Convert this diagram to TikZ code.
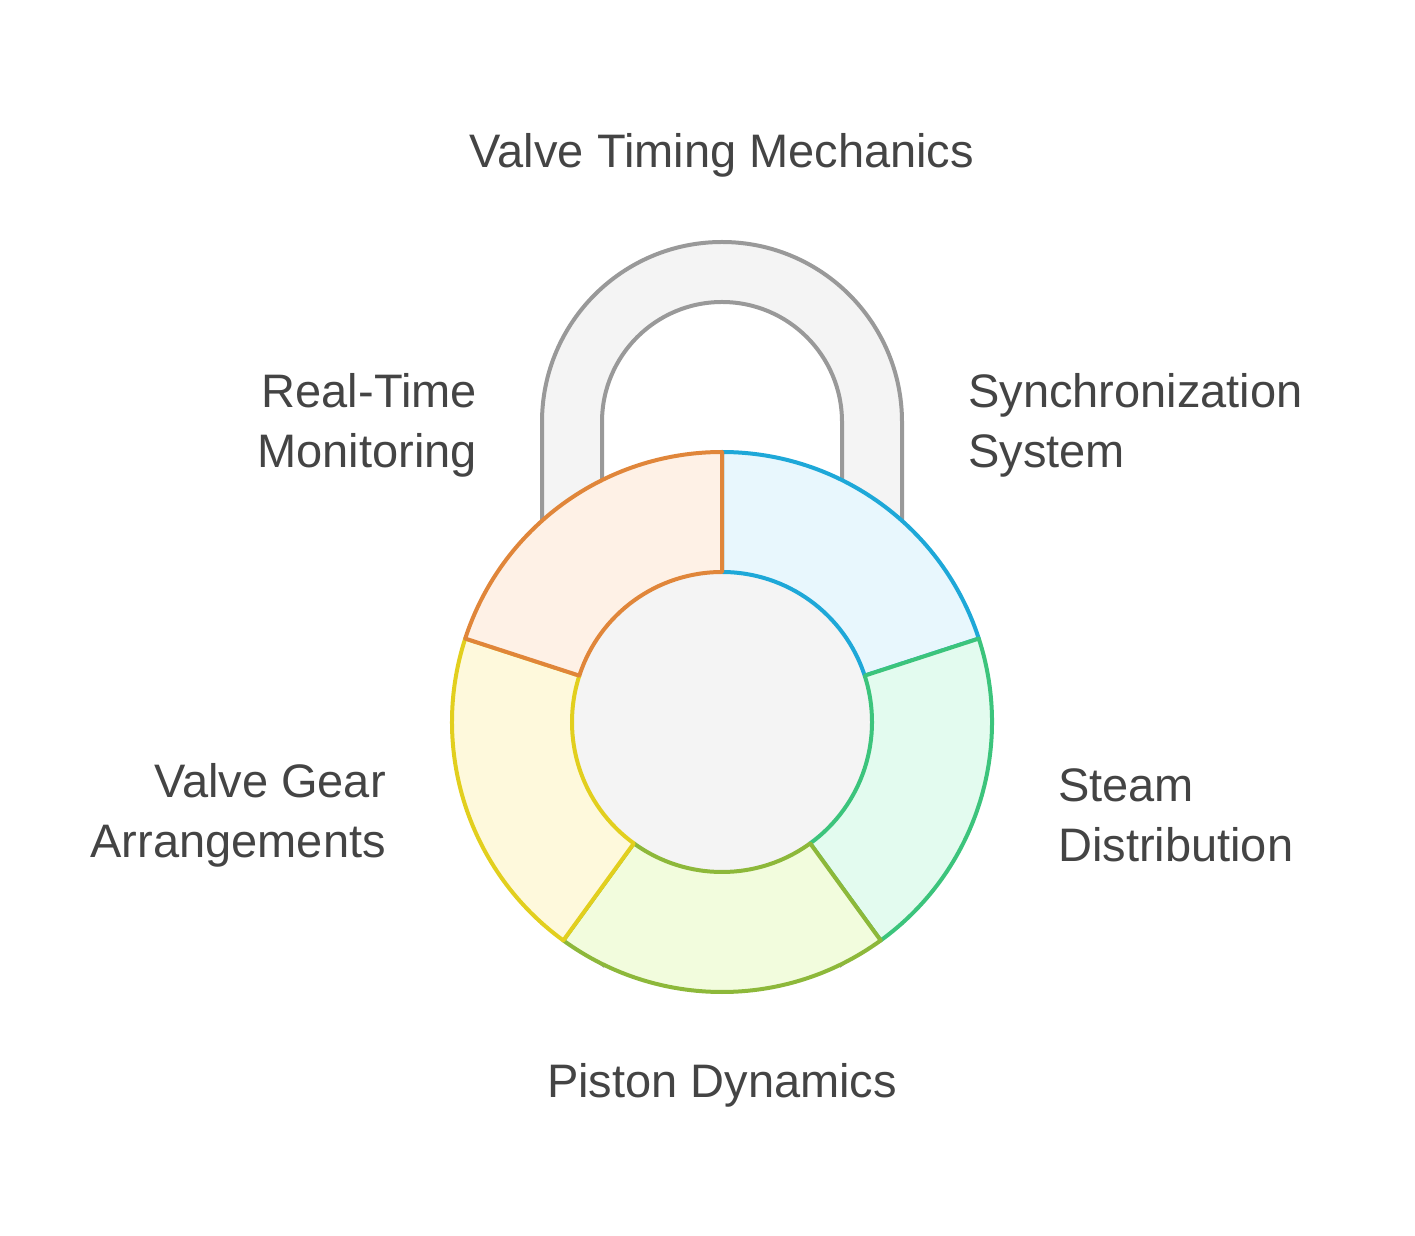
\documentclass[tikz,border=0pt]{standalone}
\usepackage{fontspec}
\setmainfont{Liberation Sans}
\usetikzlibrary{positioning}
\definecolor{txt}{HTML}{444444}
\definecolor{lockgray}{HTML}{999999}
\definecolor{lockfill}{HTML}{F4F4F4}
\definecolor{blueS}{HTML}{1EA8D8}\definecolor{blueF}{HTML}{E8F7FD}
\definecolor{greenS}{HTML}{3CC47C}\definecolor{greenF}{HTML}{E3FBEF}
\definecolor{limeS}{HTML}{8DB83A}\definecolor{limeF}{HTML}{F2FCDD}
\definecolor{yellowS}{HTML}{E2CF1E}\definecolor{yellowF}{HTML}{FEF9DC}
\definecolor{orangeS}{HTML}{E0863A}\definecolor{orangeF}{HTML}{FEF1E6}
\tikzset{
  label/.style={text=txt, font=\fontsize{47}{60}\selectfont, inner sep=0pt},
  seg/.style={line width=4pt, line join=round}
}
\begin{document}
\begin{tikzpicture}[x=1pt,y=1pt]
  \useasboundingbox (0,0) rectangle (1415,1235);
  \coordinate (c) at (722,513);
  % shackle
  \draw[lockgray, fill=lockfill, line width=4pt]
    ([shift={(-180,-201)}]c) -- ++(0,501) arc (180:0:180) -- ++(0,-501)
    -- ([shift={(120,-242)}]c) -- ++(0,542) arc (0:180:120) -- ++(0,-542) -- cycle;
  \fill[white] (c) circle (265);
  \fill[lockfill] (c) circle (150);
  % ring segments
  \foreach \a/\b/\col in {90/18/blue, 18/-54/green, -54/-126/lime, -126/-198/yellow, -198/-270/orange}
    \draw[seg, draw=\col S, fill=\col F] ([shift={(\a:270)}]c) arc (\a:\b:270)
      -- ([shift={(\b:150)}]c) arc (\b:\a:150) -- cycle;
  % labels
  \node[label] (vtm) at (722,1080) {Valve Timing Mechanics};
  \node[label, anchor=east, align=right] (rtm) at (477,810) {Real-Time\\Monitoring};
  \node[label, anchor=west, align=left] (sync) at (968,810) {Synchronization\\System};
  \node[label, anchor=west, align=left] (steam) at (1058,420) {Steam\\Distribution};
  \node[label, anchor=east, align=right] (vga) at (386,420) {Valve Gear\\Arrangements};
  \node[label] (pd) at (722,150) {Piston Dynamics};
\end{tikzpicture}
\end{document}
